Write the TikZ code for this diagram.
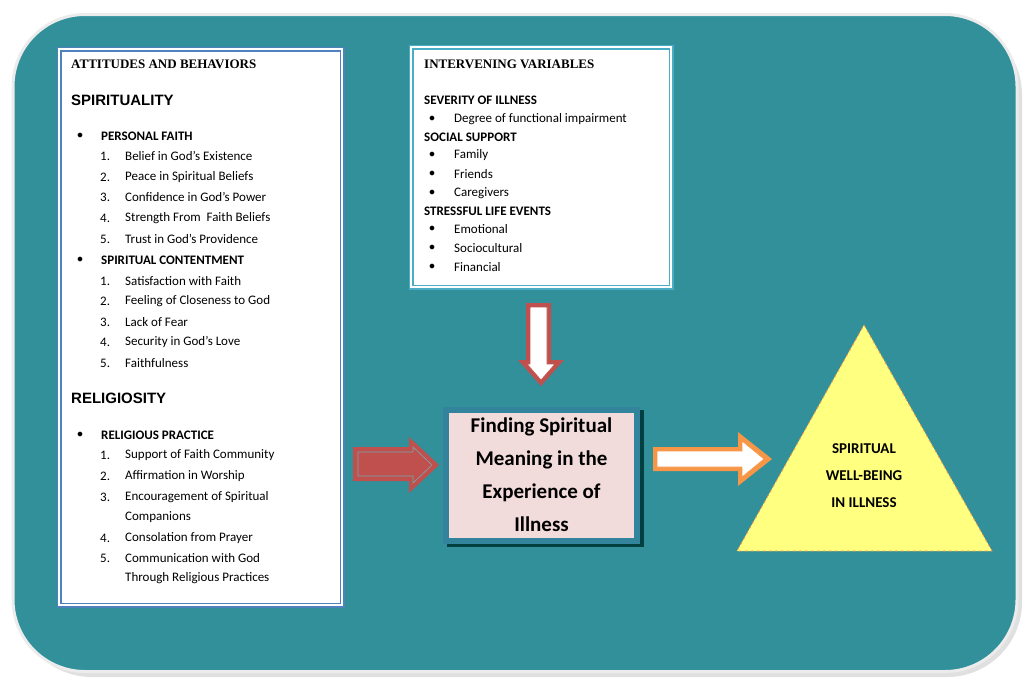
\documentclass[tikz,border=0pt]{standalone}
\usepackage{fontspec}
\setmainfont{Carlito}
\newfontfamily\hdserif{Liberation Serif}
\newfontfamily\hdsans{Liberation Sans}
\definecolor{cteal}{RGB}{49,144,154}
\definecolor{cblue}{RGB}{79,129,189}
\definecolor{caqua}{RGB}{75,172,198}
\definecolor{cmidb}{RGB}{49,132,155}
\definecolor{cpink}{RGB}{242,220,219}
\definecolor{cred}{RGB}{192,80,77}
\definecolor{cline}{RGB}{120,170,175}
\definecolor{corange}{RGB}{247,150,70}
\definecolor{cyellow}{RGB}{255,255,128}
\begin{document}
\begin{tikzpicture}[x=1pt,y=-1pt,
  it/.style={anchor=west,inner sep=0pt,font=\fontsize{13}{14}\selectfont},
  hd/.style={anchor=west,inner sep=0pt,font=\fontsize{13}{14}\selectfont\bfseries},
  big/.style={anchor=west,inner sep=0pt,font=\fontsize{15}{16}\hdsans\bfseries},
  bul/.style={anchor=center,inner sep=0pt,font=\fontsize{13}{14}\selectfont}]
\useasboundingbox (0,0) rectangle (1030,689);
\fill[white] (0,0) rectangle (1030,689);
% outer panel
\fill[black!12,rounded corners=75pt] (17,20) rectangle (1022,677);
\node[draw=white!85!gray,line width=3pt,fill=cteal,rounded corners=72pt,minimum width=1004pt,minimum height=657pt,inner sep=0pt] (panel) at (515,343) {};
% left box
\node[draw=cblue,double=white,double distance=2pt,line width=1.5pt,fill=white,minimum width=283pt,minimum height=556pt,inner sep=0pt] (left) at (200.5,327) {};
\node[anchor=west,inner sep=0pt,font=\fontsize{13}{14}\hdserif\bfseries] (lt) at (71,64) {ATTITUDES AND BEHAVIORS};
\node[big] (sp) at (71,100) {SPIRITUALITY};
\node[big] (rl) at (71,398) {RELIGIOSITY};
\node[bul] (b1) at (80,136) {$\bullet$};
\node[hd] (pf) at (101,136) {PERSONAL FAITH};
\node[bul] (b2) at (80,260) {$\bullet$};
\node[hd] (sc) at (101,260) {SPIRITUAL CONTENTMENT};
\node[bul] (b3) at (80,435) {$\bullet$};
\node[hd] (rp) at (101,435) {RELIGIOUS PRACTICE};
\foreach \n/\y/\t [count=\i] in {1./156/Belief in God’s Existence,2./177/Peace in Spiritual Beliefs,3./197/Confidence in God’s Power,4./218/Strength From\ \ Faith Beliefs,5./239/Trust in God’s Providence,
 1./281/Satisfaction with Faith,2./301/Feeling of Closeness to God,3./322/Lack of Fear,4./342/Security in God’s Love,5./363/Faithfulness,
 1./455/Support of Faith Community,2./476/Affirmation in Worship,3./497/Encouragement of Spiritual,4./538/Consolation from Prayer,5./558/Communication with God}{
  \node[it] (n\i) at (100,\y) {\n};
  \node[it] (i\i) at (125,\y) {\t};
}
\node[it] (i16) at (125,517) {Companions};
\node[it] (i17) at (125,578) {Through Religious Practices};
% intervening box
\node[draw=caqua,double=white,double distance=2pt,line width=1.5pt,fill=white,minimum width=260pt,minimum height=240pt,inner sep=0pt] (iv) at (541,167) {};
\node[anchor=west,inner sep=0pt,font=\fontsize{13}{14}\hdserif\bfseries] (ivt) at (424,64) {INTERVENING VARIABLES};
\node[hd] (h1) at (424,100) {SEVERITY OF ILLNESS};
\node[hd] (h2) at (424,137) {SOCIAL SUPPORT};
\node[hd] (h3) at (424,211) {STRESSFUL LIFE EVENTS};
\foreach \y/\t [count=\i] in {119/Degree of functional impairment,155/Family,174/Friends,193/Caregivers,229/Emotional,248/Sociocultural,267/Financial}{
  \node[bul] (vb\i) at (432,\y) {$\bullet$};
  \node[it] (v\i) at (454,\y) {\t};
}
% middle box
\fill[black!50!teal] (447,410) rectangle (644,547);
\node[draw=cmidb,line width=6pt,fill=cpink,minimum width=191pt,minimum height=131pt,inner sep=0pt,align=center,font=\fontsize{21}{33}\selectfont\bfseries] (mid) at (541.5,475) {Finding Spiritual\\Meaning in the\\Experience of\\Illness};
% down arrow
\fill[cred] (526,303)--(551,303)--(551,360)--(564,360)--(541,386)--(518,360)--(526,360)--cycle;
\draw[fill=white,draw=cred,line width=0.6pt] (530,307)--(547,307)--(547,364)--(555,364)--(541,380)--(527,364)--(530,364)--cycle;
% left arrow
\fill[cred] (353,447)--(409,447)--(409,437)--(439,465)--(409,493)--(409,481)--(353,481)--cycle;
\draw[draw=cline,line width=0.6pt] (358,452)--(413,452)--(413,447)--(432,465)--(413,483)--(413,476)--(358,476)--cycle;
% right arrow
\fill[corange] (653,447)--(738,447)--(738,432)--(772,459)--(738,486)--(738,471)--(653,471)--cycle;
\draw[fill=white,draw=corange,line width=0.6pt] (657,451)--(742,451)--(742,441)--(764,459)--(742,477)--(742,467)--(657,467)--cycle;
% triangle
\coordinate (apex) at (864,325);
\coordinate (bl) at (737,551);
\coordinate (br) at (992,551);
\draw[fill=cyellow,draw=corange,dashed,line width=0.8pt] (apex)--(br)--(bl)--cycle;
\node[align=center,inner sep=0pt,font=\fontsize{15}{27}\selectfont\bfseries] (tri) at (864,476) {SPIRITUAL\\WELL-BEING\\IN ILLNESS};
\end{tikzpicture}
\end{document}
